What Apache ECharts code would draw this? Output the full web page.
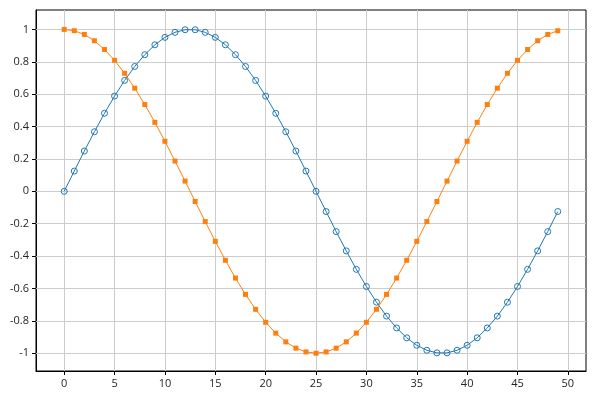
<!DOCTYPE html>
<html><head><meta charset="utf-8">
<script src="https://cdn.jsdelivr.net/npm/echarts@6/dist/echarts.min.js"></script>
<style>html,body{margin:0;padding:0;background:#fff}#c{width:600px;height:400px}</style>
</head><body><div id="c"></div>
<script>
var xs = [0,1,2,3,4,5,6,7,8,9,10,11,12,13,14,15,16,17,18,19,20,21,22,23,24,25,26,27,28,29,30,31,32,33,34,35,36,37,38,39,40,41,42,43,44,45,46,47,48,49];
var blueVals = [0,0.125,0.249,0.368,0.482,0.588,0.685,0.771,0.844,0.905,0.951,0.982,0.998,0.998,0.982,0.951,0.905,0.844,0.771,0.685,0.588,0.482,0.368,0.249,0.125,0,-0.125,-0.249,-0.368,-0.482,-0.588,-0.685,-0.771,-0.844,-0.905,-0.951,-0.982,-0.998,-0.998,-0.982,-0.951,-0.905,-0.844,-0.771,-0.685,-0.588,-0.482,-0.368,-0.249,-0.125];
var orangeVals = [1,0.992,0.969,0.930,0.876,0.809,0.729,0.637,0.536,0.426,0.309,0.187,0.063,-0.063,-0.187,-0.309,-0.426,-0.536,-0.637,-0.729,-0.809,-0.876,-0.930,-0.969,-0.992,-1,-0.992,-0.969,-0.930,-0.876,-0.809,-0.729,-0.637,-0.536,-0.426,-0.309,-0.187,-0.063,0.063,0.187,0.309,0.426,0.536,0.637,0.729,0.809,0.876,0.930,0.969,0.992];
var xTicks = [0,5,10,15,20,25,30,35,40,45,50];
var yTicks = [-1,-0.8,-0.6,-0.4,-0.2,0,0.2,0.4,0.6,0.8,1];

function pairs(v){ return xs.map(function(x,i){ return [x, v[i]]; }); }
var font = '"Open Sans", "Noto Sans", sans-serif';
var chart = echarts.init(document.getElementById('c'), null, {renderer:'canvas'});
chart.setOption({
  animation:false,
  grid:{left:36,top:10,right:14,bottom:29,show:true,borderColor:'#000',borderWidth:1,containLabel:false},
  xAxis:{type:'value',min:-2.8,max:51.8,
    axisLine:{show:true,onZero:false,lineStyle:{color:'#000',width:1}},
    axisTick:{show:true,customValues:xTicks,length:4,lineStyle:{color:'#000'}},
    axisLabel:{customValues:xTicks,color:'#262626',fontSize:11,fontFamily:font,margin:7,showMinLabel:true,showMaxLabel:true},
    splitLine:{show:false}},
  yAxis:{type:'value',min:-1.11,max:1.12,
    axisLine:{show:true,onZero:false,lineStyle:{color:'#000',width:1}},
    axisTick:{show:true,customValues:yTicks,length:4,lineStyle:{color:'#000'}},
    axisLabel:{customValues:yTicks,color:'#262626',fontSize:11,fontFamily:font,margin:7,
      formatter:function(v){return String(Math.round(v*10)/10);}},
    splitLine:{show:false}},
  series:[
    {type:'line',data:pairs(blueVals),symbol:'circle',symbolSize:6,z:2,
     lineStyle:{color:'#1f77b4',width:1},
     itemStyle:{color:'rgba(0,0,0,0)',borderColor:'#1f77b4',borderWidth:1},
     markLine:{silent:true,symbol:'none',label:{show:false},animation:false,
       lineStyle:{color:'#cccccc',width:1,type:'solid'},
       data:xTicks.map(function(t){return {xAxis:t};}).concat(yTicks.map(function(t){return {yAxis:t};})),
       z:1}},
    {type:'line',data:pairs(orangeVals),symbol:'rect',symbolSize:5,z:3,
     lineStyle:{color:'#ff7f0e',width:1},
     itemStyle:{color:'#ff7f0e',borderColor:'#ff7f0e',borderWidth:0}}
  ]
});
</script></body></html>
